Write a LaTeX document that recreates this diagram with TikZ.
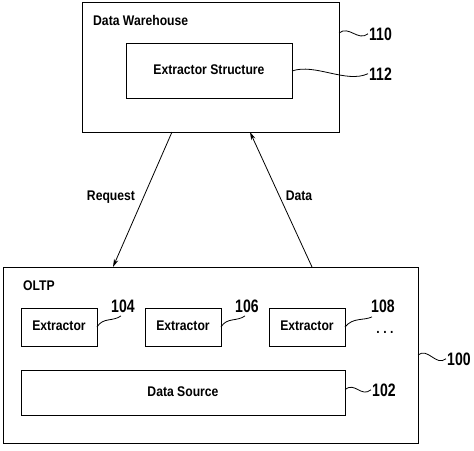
\documentclass[tikz,border=0pt]{standalone}
\usepackage{fontspec}
\setmainfont[FakeStretch=0.87]{Liberation Sans}
\newfontfamily\numfont[FakeStretch=0.78]{Liberation Sans}
\usetikzlibrary{arrows.meta,calc}
\begin{document}
\begin{tikzpicture}[x=1pt,y=-1pt,
  box/.style={draw,line width=1pt,rectangle,inner sep=0pt,outer sep=0pt},
  lbl/.style={font=\bfseries\fontsize{14}{16}\selectfont,inner sep=0pt},
  num/.style={font=\numfont\bfseries\fontsize{18}{20}\selectfont,inner sep=0pt,anchor=base west},
  lead/.style={line width=0.8pt},
  arr/.style={line width=0.8pt,-{Stealth[length=8pt,width=4.5pt]}}]
\useasboundingbox (0,0) rectangle (474,450);
% boxes
\node[box,minimum width=257pt,minimum height=130pt] (dw) at (210.5,67) {};
\node[box,minimum width=166pt,minimum height=55pt] (es) at (209,71) {};
\node[box,minimum width=415pt,minimum height=176pt] (oltp) at (210.5,355) {};
\node[box,minimum width=76pt,minimum height=38pt] (ex1) at (59,327) {};
\node[box,minimum width=76pt,minimum height=38pt] (ex2) at (183,327) {};
\node[box,minimum width=76pt,minimum height=38pt] (ex3) at (307,327) {};
\node[box,minimum width=324pt,minimum height=45pt] (ds) at (183,392.5) {};
% texts
\node[lbl,anchor=base west] (tdw) at (93,25) {Data Warehouse};
\node[lbl,anchor=base] (tes) at (209,74.5) {Extractor Structure};
\node[lbl,anchor=base west] (toltp) at (23,290.5) {OLTP};
\node[lbl,anchor=base] (tex1) at (59,330.5) {Extractor};
\node[lbl,anchor=base] (tex2) at (183,330.5) {Extractor};
\node[lbl,anchor=base] (tex3) at (307,330.5) {Extractor};
\node[lbl,anchor=base] (tds) at (183,396.5) {Data Source};
\node[lbl,anchor=base] (treq) at (111,200) {Request};
\node[lbl,anchor=base] (tdata) at (299,200) {Data};
\node[lbl,anchor=base] (tdots) at (385,333) {.\hspace{3.5pt}.\hspace{3.5pt}.};
% numbers
\node[num] (n110) at (369,40) {110};
\node[num] (n112) at (369,80) {112};
\node[num] (n104) at (111,312.5) {104};
\node[num] (n106) at (235,312.5) {106};
\node[num] (n108) at (371,312.5) {108};
\node[num] (n102) at (372,396) {102};
\node[num] (n100) at (447,365) {100};
% arrows
\draw[arr] ($(dw.south west)+(90,0)$) -- ($(oltp.north west)+(110,0)$);
\draw[arr] ($(oltp.north west)+(309,0)$) -- ($(dw.south west)+(168,0)$);
% leaders
\draw[lead] ($(dw.north east)+(0,31)$) .. controls +(10,-8) and +(-10,8) .. ($(n110.west)+(-1,0)$);
\draw[lead] (es.east) .. controls +(23,-8) and +(-22,10) .. ($(n112.west)+(-1,0)$);
\draw[lead] (ex1.east) .. controls +(6,-10) and +(-8,6) .. ($(n104.south west)+(10,3)$);
\draw[lead] (ex2.east) .. controls +(6,-10) and +(-8,6) .. ($(n106.south west)+(10,3)$);
\draw[lead] (ex3.east) .. controls +(8,-10) and +(-8,4) .. ($(n108.south west)+(1,4)$);
\draw[lead] ($(ds.east)+(0,-3)$) .. controls +(10,-8) and +(-10,8) .. ($(n102.west)+(-1,0)$);
\draw[lead] (oltp.east) .. controls +(10,-8) and +(-10,8) .. ($(n100.west)+(-1,0)$);
\end{tikzpicture}
\end{document}
